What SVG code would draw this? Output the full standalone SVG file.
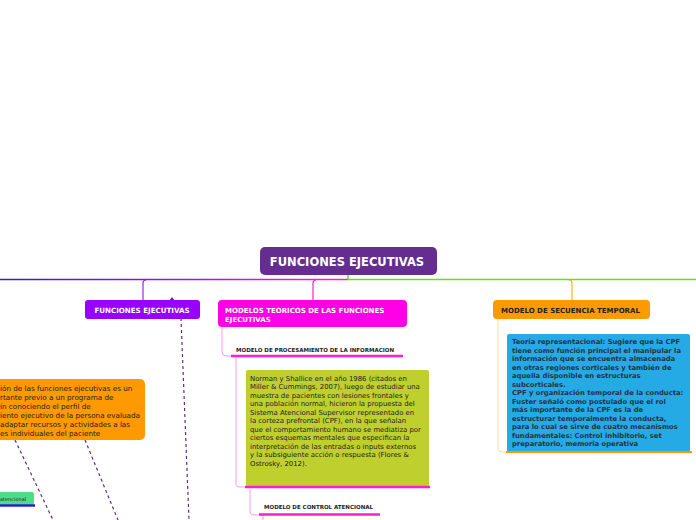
<svg xmlns="http://www.w3.org/2000/svg" width="696" height="520" viewBox="0 0 696 520">
<defs>
<linearGradient id="lg" x1="0" x2="348" y1="0" y2="0" gradientUnits="userSpaceOnUse"><stop offset="0" stop-color="#2a1fd6"/><stop offset="0.5" stop-color="#9b14e8"/><stop offset="1" stop-color="#ff1fd0"/></linearGradient>
<style>
text{font-family:"DejaVu Sans",Verdana,sans-serif}
.b{font-weight:bold}
.dash{fill:none;stroke:#5a2a8a;stroke-width:1.2;stroke-dasharray:3,3}
</style>
</defs>
<g id="connectors" fill="none">
<path d="M0 279.5H348" stroke="url(#lg)" stroke-width="1.5"/>
<path d="M348 279.5H696" stroke="#66dd22" stroke-width="1.5"/>
<path d="M348 275V279.5" stroke="#66dd22" stroke-width="1.5"/>
<path d="M143 301V283q0-3 3-3" stroke="#a020f0" stroke-width="1.2"/>
<path d="M313 301V283q0-3 3-3" stroke="#ff1fd0" stroke-width="1.2"/>
<path d="M572 301V283q0-3-3-3" stroke="#ffb020" stroke-width="1.2"/>
<path d="M222 327V352q0 4 4 4h8" stroke="#ff99ee" stroke-width="1"/>
<path d="M236 356V485q0 2 4 2h8" stroke="#ff99ee" stroke-width="1"/>
<path d="M250 489V512q0 3 4 3h8" stroke="#ff99ee" stroke-width="1"/>
<path d="M263 515V520" stroke="#ff99ee" stroke-width="1"/>
<path d="M498 319V448q0 4 4 4h6" stroke="#ffd9a0" stroke-width="1"/>
<path class="dash" d="M181 318L189 520"/>
<path class="dash" d="M15 440L53 520"/>
<path class="dash" d="M85 440L118 520"/>
<path d="M169 301l3-4 3 4z" fill="#5a2a8a"/>
</g>
<g id="root"><rect x="260" y="247" width="177" height="28" rx="5" fill="#662d91"/><text x="347" y="265.5" text-anchor="middle" class="b" font-size="11.5" fill="#fff">FUNCIONES EJECUTIVAS</text></g>
<g id="fe"><rect x="85" y="300" width="115" height="19" rx="3" fill="#9900ff"/><text x="142" y="312.5" text-anchor="middle" class="b" font-size="7.1" fill="#fff">FUNCIONES EJECUTIVAS</text></g>
<g id="mt"><rect x="218" y="300" width="189" height="27" rx="4" fill="#ff00e6"/><text class="b" font-size="7" fill="#fff"><tspan x="225" y="312.5">MODELOS TEORICOS DE LAS FUNCIONES</tspan><tspan x="225" y="321.5">EJECUTIVAS</tspan></text></g>
<g id="mst"><rect x="493" y="300" width="157" height="19" rx="4" fill="#ff9900"/><text x="501" y="312.5" class="b" font-size="7" fill="#222">MODELO DE SECUENCIA TEMPORAL</text></g>
<g id="eval"><rect x="-10" y="379" width="155" height="61" rx="5" fill="#ff9900"/><text font-size="7.2" fill="#222"><tspan x="0" y="391">ión de las funciones ejecutivas es un</tspan><tspan x="0" y="400">rtante previo a un programa de</tspan><tspan x="0" y="409">ín conociendo el perfil de</tspan><tspan x="0" y="418">iento ejecutivo de la persona evaluada</tspan><tspan x="0" y="427">adaptar recursos y actividades a las</tspan><tspan x="0" y="436">es individuales del paciente</tspan></text></g>
<g id="atenc"><rect x="-10" y="492" width="44" height="13" rx="2" fill="#4ddd88"/><path d="M-10 505.5H35" stroke="#2a1fd6" stroke-width="2.5"/><text x="0" y="500.5" font-size="5" fill="#222">atencional</text></g>
<g id="mpi"><text x="236" y="351.5" class="b" font-size="5.5" fill="#222">MODELO DE PROCESAMIENTO DE LA INFORMACION</text><path d="M231 356H403" stroke="#ff1fd0" stroke-width="2.5"/></g>
<g id="norman"><rect x="246" y="370" width="183" height="117" rx="2" fill="#bfcf2d"/><path d="M245 487H430" stroke="#ff1fd0" stroke-width="2.5"/><text font-size="6.9" fill="#222"><tspan x="250" y="380.5">Norman y Shallice en el año 1986 (citados en</tspan><tspan x="250" y="389">Miller &amp; Cummings, 2007), luego de estudiar una</tspan><tspan x="250" y="397.5">muestra de pacientes con lesiones frontales y</tspan><tspan x="250" y="406">una población normal, hicieron la propuesta del</tspan><tspan x="250" y="414.5">Sistema Atencional Supervisor representado en</tspan><tspan x="250" y="423">la corteza prefrontal (CPF), en la que señalan</tspan><tspan x="250" y="431.5">que el comportamiento humano se mediatiza por</tspan><tspan x="250" y="440">ciertos esquemas mentales que especifican la</tspan><tspan x="250" y="448.5">interpretación de las entradas o inputs externos</tspan><tspan x="250" y="457">y la subsiguiente acción o respuesta (Flores &amp;</tspan><tspan x="250" y="465.5">Ostrosky, 2012).</tspan></text></g>
<g id="mca"><text x="264" y="509" class="b" font-size="5.5" fill="#222">MODELO DE CONTROL ATENCIONAL</text><path d="M259 514.5H380" stroke="#ff1fd0" stroke-width="2.5"/></g>
<g id="teoria"><rect x="507" y="334" width="183" height="118" rx="2" fill="#26aae6"/><path d="M506 452H692" stroke="#ff9900" stroke-width="2"/><text class="b" font-size="6.8" fill="#234"><tspan x="512" y="344">Teoría representacional: Sugiere que la CPF</tspan><tspan x="512" y="352.5">tiene como función principal el manipular la</tspan><tspan x="512" y="361">información que se encuentra almacenada</tspan><tspan x="512" y="369.5">en otras regiones corticales y también de</tspan><tspan x="512" y="378">aquella disponible en estructuras</tspan><tspan x="512" y="386.5">subcorticales.</tspan><tspan x="512" y="395">CPF y organización temporal de la conducta:</tspan><tspan x="512" y="403.5">Fuster señaló como postulado que el rol</tspan><tspan x="512" y="412">más importante de la CPF es la de</tspan><tspan x="512" y="420.5">estructurar temporalmente la conducta,</tspan><tspan x="512" y="429">para lo cual se sirve de cuatro mecanismos</tspan><tspan x="512" y="437.5">fundamentales: Control inhibitorio, set</tspan><tspan x="512" y="446">preparatorio, memoria operativa</tspan></text></g>
</svg>
